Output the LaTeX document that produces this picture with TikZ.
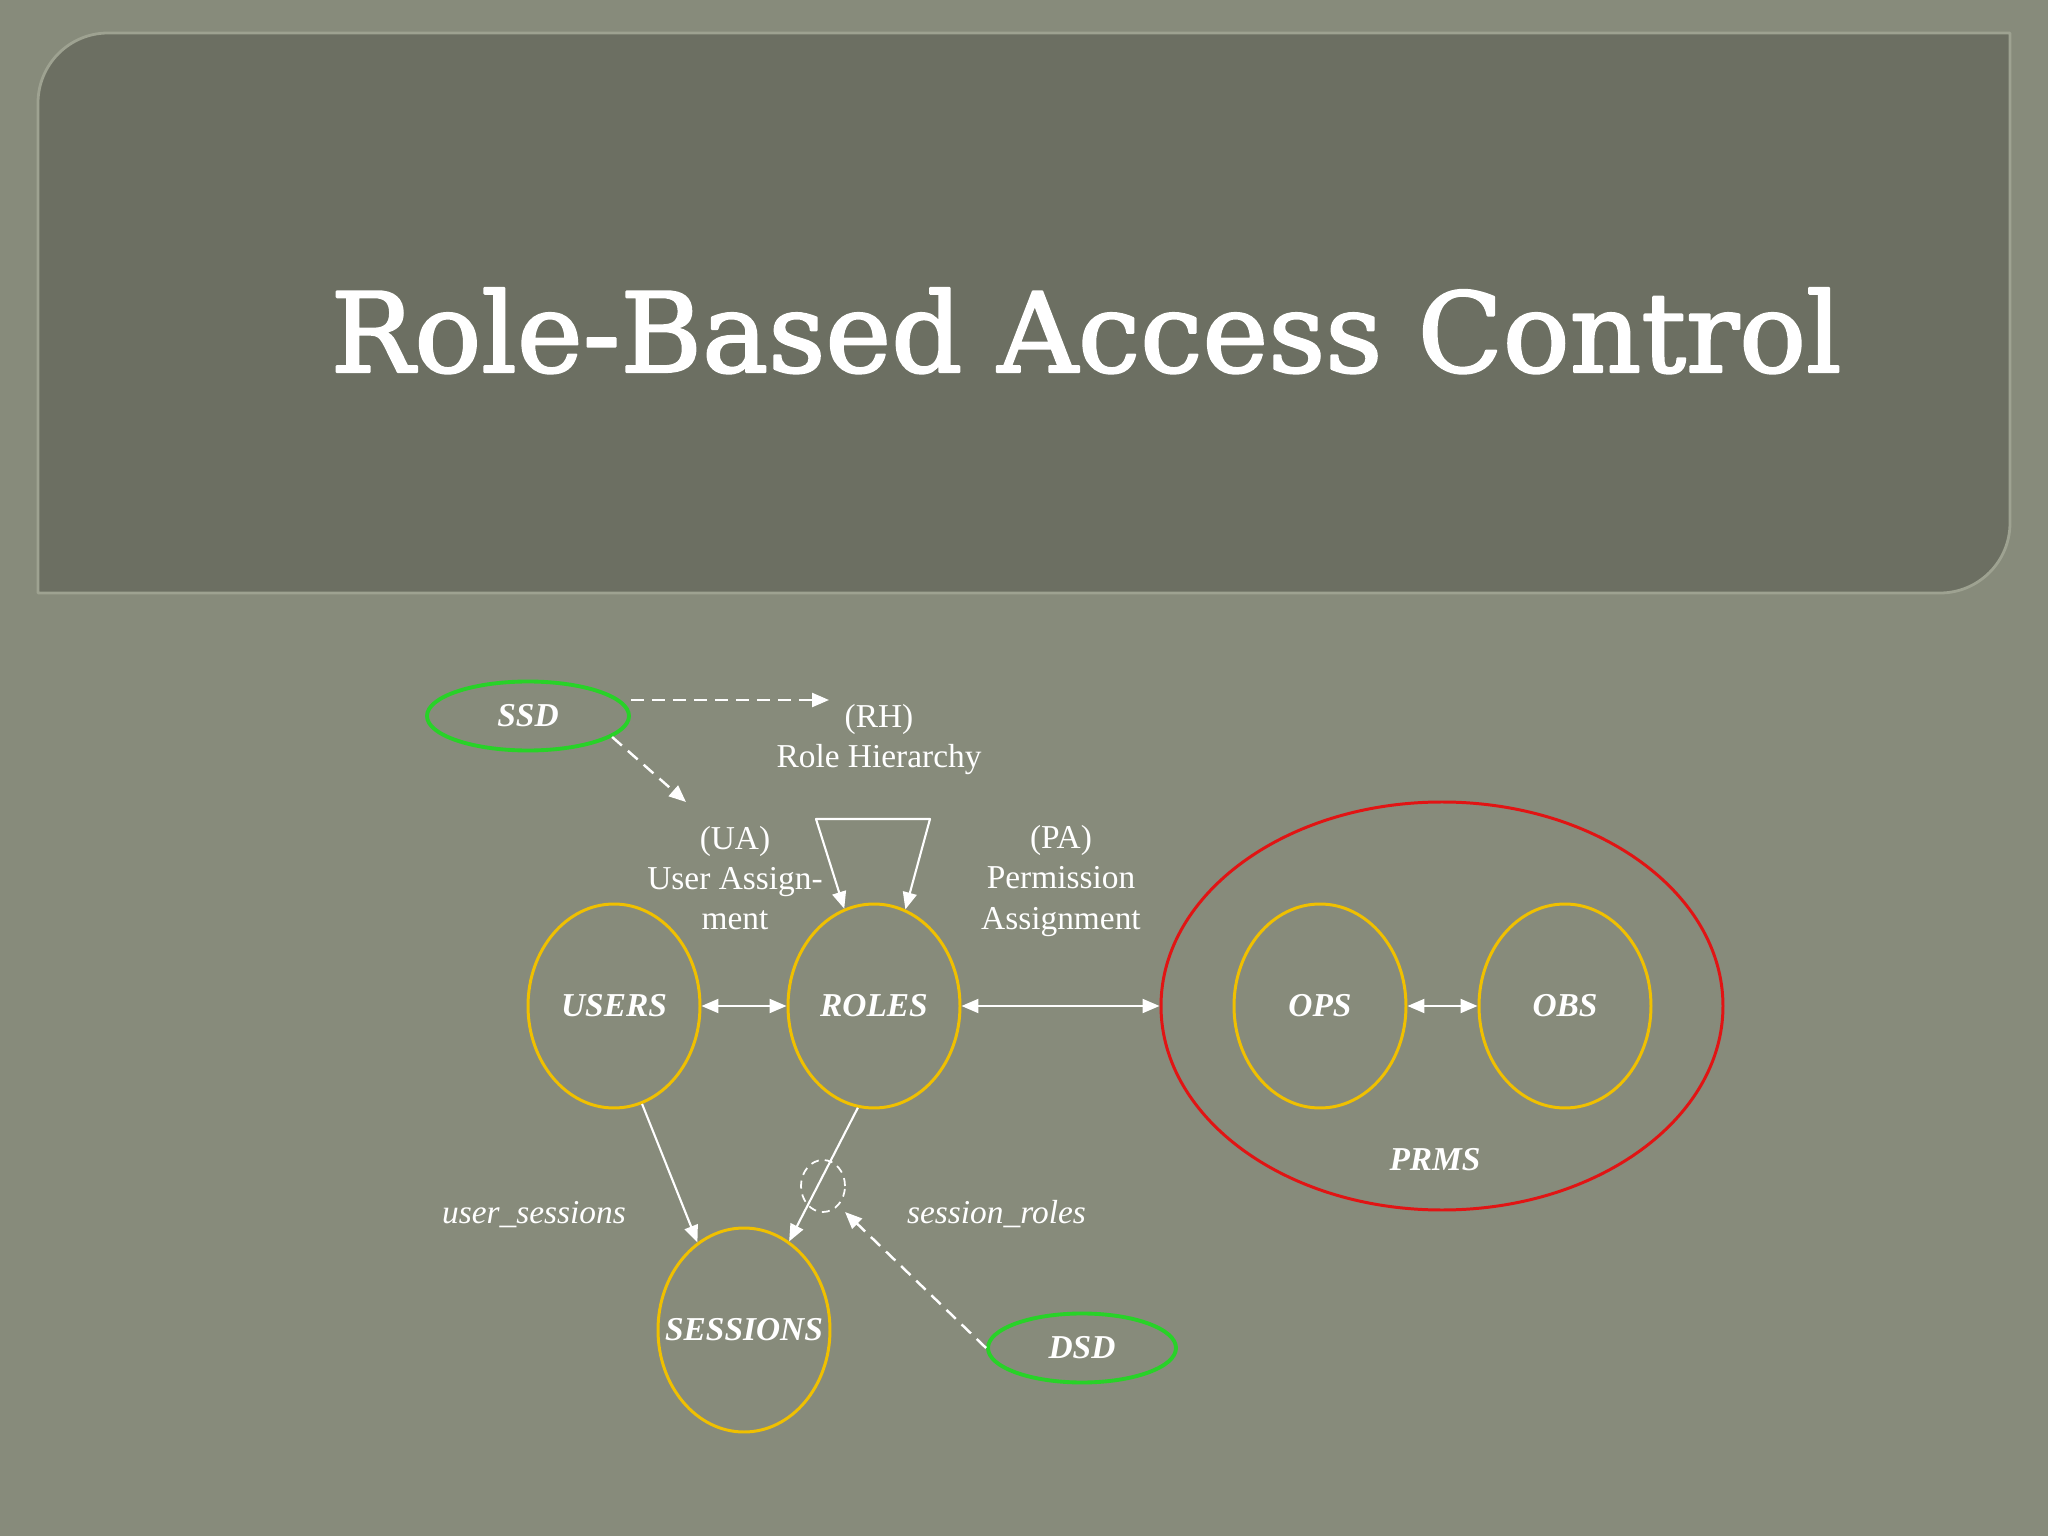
\documentclass[tikz,border=0pt]{standalone}
\usepackage{graphicx}
\usepackage{fontspec}
\setmainfont{Liberation Serif}
\newfontfamily\titlefont[FakeBold=2]{DejaVu Serif}
\usetikzlibrary{shapes.geometric,arrows.meta}
\definecolor{bgolive}{RGB}{135,139,123}
\definecolor{boxolive}{RGB}{108,111,98}
\definecolor{rimolive}{RGB}{158,162,145}
\definecolor{setyellow}{RGB}{240,192,0}
\definecolor{sodgreen}{RGB}{40,210,40}
\definecolor{prmsred}{RGB}{225,20,20}
\begin{document}
\begin{tikzpicture}[font=\fontsize{9.5}{11.4}\selectfont, line join=round, >={Triangle[length=1.7mm,width=1.4mm]},
	set/.style={ellipse, draw=setyellow, line width=0.85pt, minimum width=1.72cm, minimum height=2.04cm, inner sep=0pt},
	sod/.style={ellipse, draw=sodgreen, line width=1.1pt, minimum height=0.69cm, inner sep=0pt, text=white, font=\fontsize{9.5}{11.4}\selectfont\bfseries\itshape},
	note/.style={text=white, align=center, inner sep=0pt},
	link/.style={white, line width=0.6pt},
	dashlink/.style={white, line width=0.7pt, dash pattern=on 1.3mm off 0.8mm},
	every label/.style={text=white, inner sep=0pt, font=\fontsize{9.5}{11.4}\selectfont\bfseries\itshape}]
	\fill[bgolive] (0,0) rectangle (20.48,-15.36);
	\useasboundingbox (0,0) rectangle (20.48,-15.36);
	\filldraw[fill=boxolive, draw=rimolive, line width=0.8pt] (0.38,-5.93) -- (0.38,-1.03) arc[start angle=180, end angle=90, radius=0.7] -- (20.10,-0.33) -- (20.10,-5.23) arc[start angle=0, end angle=-90, radius=0.7] -- cycle;
	\node[anchor=base west, text=white, inner sep=0pt] (title) at (3.30,-3.72) {\titlefont\resizebox{15.11cm}{0.84cm}{Role-Based Access Control}};
	\node[sod, minimum width=2.02cm] (ssd) at (5.28,-7.16) {SSD};
	\node[sod, minimum width=1.88cm] (dsd) at (10.82,-13.48) {DSD};
	\node[ellipse, draw=prmsred, line width=0.85pt, minimum width=5.62cm, minimum height=4.08cm, inner sep=0pt] (prms) at (14.42,-10.06) {};
	\foreach \s/\x/\y/\t in {users/6.14/-10.06/USERS, roles/8.74/-10.06/ROLES, sessions/7.44/-13.30/SESSIONS, ops/13.20/-10.06/OPS, obs/15.65/-10.06/OBS}
		\node[set, label=center:\t] (\s) at (\x,\y) {};
	\node[text=white, inner sep=0pt, font=\fontsize{9.5}{11.4}\selectfont\bfseries\itshape] (prmslabel) at (14.35,-11.60) {PRMS};
	\node[ellipse, draw=white, line width=0.5pt, dash pattern=on 0.8mm off 0.6mm, minimum width=0.44cm, minimum height=0.52cm, inner sep=0pt] (cut) at (8.23,-11.86) {};
	\node[note] (rh) at (8.79,-7.395) {(RH)\\Role Hierarchy};
	\node[note] (ua) at (7.35,-8.78) {(UA)\\User Assign-\\ment};
	\node[note] (pa) at (10.61,-8.81) {(PA)\\Permission\\Assignment};
	\node[note, anchor=base, font=\fontsize{9.5}{11.4}\selectfont\itshape] (us) at (5.34,-12.23) {user\_sessions};
	\node[note, anchor=base, font=\fontsize{9.5}{11.4}\selectfont\itshape] (sr) at (9.965,-12.23) {session\_roles};
	\coordinate (rhtip) at (8.29,-7.00);
	\coordinate (uatip) at (6.86,-8.02);
	\coordinate (cuttip) at (8.45,-12.12);
	\coordinate (rhl) at (8.16,-8.19);
	\coordinate (rhr) at (9.30,-8.19);
	\draw[dashlink,->] (ssd.east |- rhtip) -- (rhtip);
	\draw[dashlink,->] (ssd.-14) -- (uatip);
	\draw[dashlink,->] (dsd.west) -- (cuttip);
	\draw[link,<->] (roles.107) -- (rhl) -- (rhr) -- (roles.72);
	\draw[link,<->] (users.east) -- (roles.west);
	\draw[link,<->] (roles.east) -- (prms.west);
	\draw[link,<->] (ops.east) -- (obs.west);
	\draw[link,->] (users.-74) -- (sessions.118);
	\draw[link,->] (roles.-99) -- (sessions.63);
\end{tikzpicture}
\end{document}
